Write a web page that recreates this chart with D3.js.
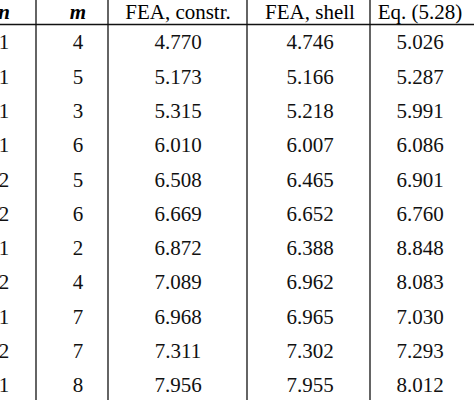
<!DOCTYPE html>
<html><head><meta charset="utf-8">
<script src="https://cdn.jsdelivr.net/npm/d3@7"></script>
<style>body{margin:0;background:#fff}</style>
</head><body>
<svg id="t" width="474" height="400"></svg>
<script>
var headers = ["n", "m", "FEA, constr.", "FEA, shell", "Eq. (5.28)"]
var nVals = [1, 1, 1, 1, 2, 2, 1, 2, 1, 2, 1]
var mVals = [4, 5, 3, 6, 5, 6, 2, 4, 7, 7, 8]
var feaConstr = ["4.770", "5.173", "5.315", "6.010", "6.508", "6.669", "6.872", "7.089", "6.968", "7.311", "7.956"]
var feaShell = ["4.746", "5.166", "5.218", "6.007", "6.465", "6.652", "6.388", "6.962", "6.965", "7.302", "7.955"]
var eqVals = ["5.026", "5.287", "5.991", "6.086", "6.901", "6.760", "8.848", "8.083", "7.030", "7.293", "8.012"]

var svg = d3.select("#t")
var colX = [4, 78, 178, 310, 420]
var lineX = [36, 108, 247, 370]
var y = d3.scaleLinear().domain([0, 10]).range([42, 385])

var rows = nVals.map((n, i) => [n, mVals[i], feaConstr[i], feaShell[i], eqVals[i]])

// header
svg.selectAll("text.h").data(headers).join("text")
    .attr("class", "h")
    .attr("x", (d, i) => colX[i])
    .attr("y", 12)
    .attr("dy", "0.35em")
    .attr("text-anchor", "middle")
    .style("font-family", "Liberation Serif")
    .style("font-size", "21px")
    .style("font-style", (d, i) => i < 2 ? "italic" : "normal")
    .style("font-weight", (d, i) => i < 2 ? "bold" : "normal")
    .text(d => d)

svg.append("line").attr("x1", 0).attr("x2", 474).attr("y1", 24.5).attr("y2", 24.5)
    .attr("stroke", "#111").attr("stroke-width", 1.3)

svg.selectAll("line.v").data(lineX).join("line")
    .attr("class", "v")
    .attr("x1", d => d).attr("x2", d => d)
    .attr("y1", 0).attr("y2", 400)
    .attr("stroke", "#111").attr("stroke-width", 1.3)

var g = svg.selectAll("g.r").data(rows).join("g").attr("class", "r")
    .attr("transform", (d, i) => `translate(0,${y(i)})`)
g.selectAll("text").data(d => d).join("text")
    .attr("x", (d, i) => colX[i])
    .attr("dy", "0.35em")
    .attr("text-anchor", "middle")
    .style("font-family", "Liberation Serif")
    .style("font-size", "21px")
    .attr("fill", "#111")
    .text(d => d)
</script>
</body></html>
